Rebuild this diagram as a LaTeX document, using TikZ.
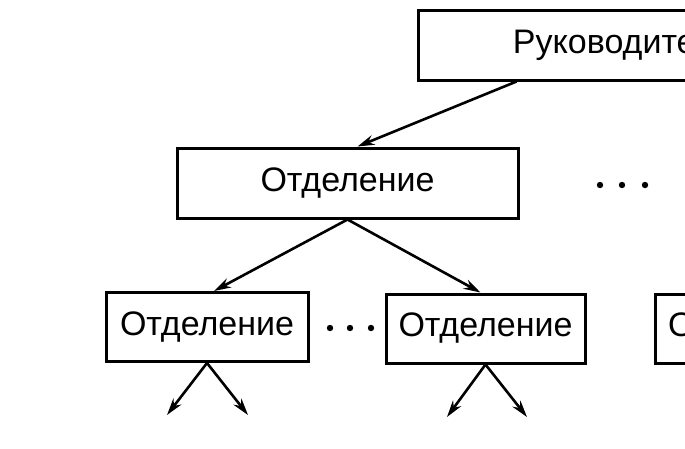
\documentclass[tikz,border=0pt]{standalone}
\usepackage{fontspec}
\setmainfont{Liberation Sans}
\usepackage{tikz}
\usetikzlibrary{positioning,calc,arrows.meta}

\begin{document}
\begin{tikzpicture}[
    x=1pt, y=-1pt,
    unitbox/.style={rectangle, draw, line width=3pt, inner sep=0pt, font=\fontsize{34}{38}\selectfont},
    bossbox/.style={unitbox, minimum width=409pt, minimum height=70pt},
    deptbox/.style={unitbox, minimum width=200pt, minimum height=69pt},
    arrow/.style={-{Stealth[length=17pt,width=10pt]}, line width=2.6pt}
]
    \useasboundingbox (0,0) rectangle (685,448);
    \clip (0,0) rectangle (685,448);

    \node[bossbox] (boss) at (622.5, 45) {Руководитель};
    \node[unitbox, minimum width=341pt, minimum height=70pt] (dep) at (347.5, 183) {Отделение};

    \node[deptbox, minimum width=202pt] (sub1) at (207, 327) {Отделение};
    \node[deptbox, minimum width=199pt] (sub2) at (485.5, 328.5) {Отделение};
    \node[deptbox] (sub3) at (755, 328.5) {Отделение};

    % dots
    \foreach \x in {600, 622, 645} \fill (\x, 185) circle (3.2pt);
    \foreach \x in {330, 350, 371} \fill (\x, 328) circle (3.2pt);

    \draw[arrow] ([xshift=100pt]boss.south west) -- ([xshift=10pt]dep.north);
    \draw[arrow] (dep.south) -- ([xshift=7pt]sub1.north);
    \draw[arrow] (dep.south) -- ([xshift=-5pt]sub2.north);

    % lower level, open ends
    \coordinate (l1) at (167, 415); \coordinate (r1) at (248, 415);
    \coordinate (l2) at (447, 417); \coordinate (r2) at (527, 417);
    \draw[arrow] (sub1.south) -- (l1);
    \draw[arrow] (sub1.south) -- (r1);
    \draw[arrow] (sub2.south) -- (l2);
    \draw[arrow] (sub2.south) -- (r2);
\end{tikzpicture}
\end{document}
